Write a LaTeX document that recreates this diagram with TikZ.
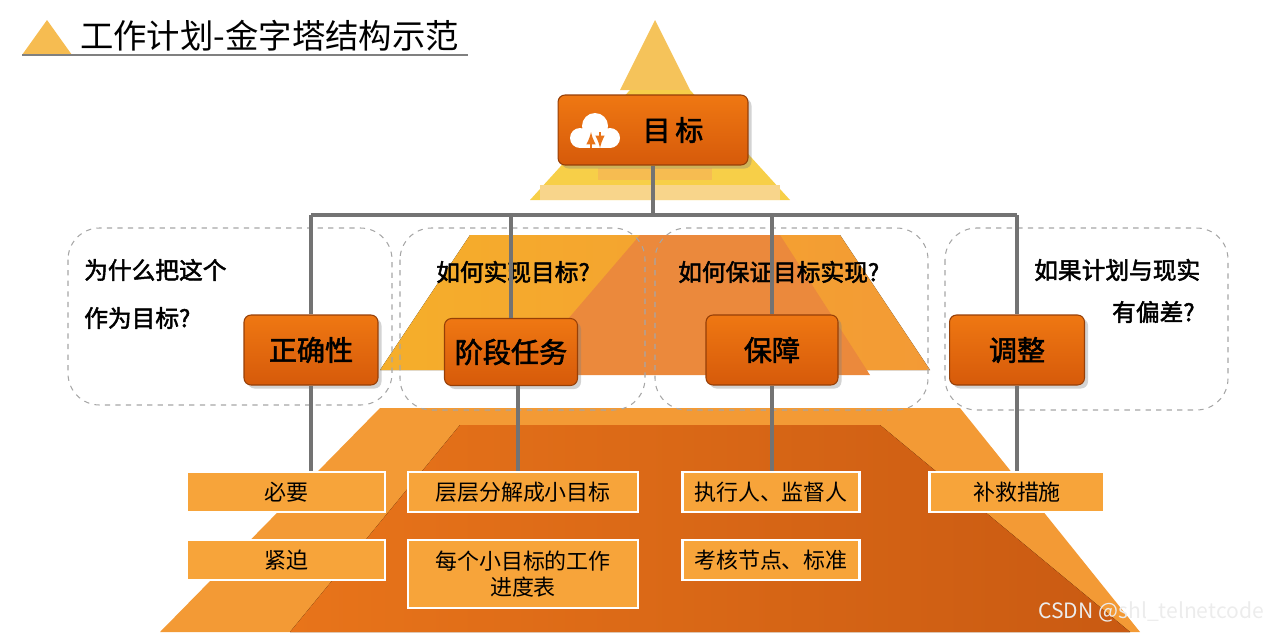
\documentclass[tikz,border=0pt]{standalone}
\usepackage{fontspec}
\setmainfont{Noto Sans CJK SC}
\newfontfamily\cjkb[FakeBold=2]{Noto Sans CJK SC}
\usetikzlibrary{shadows}
\definecolor{og}{HTML}{E8741A}
\definecolor{ogd}{HTML}{D65A0A}
\definecolor{lo}{HTML}{F7A43A}
\definecolor{gold}{HTML}{F5C35A}
\definecolor{tier}{HTML}{F39A35}
\definecolor{dark}{HTML}{C95A12}
\tikzset{
 mainbox/.style={draw=ogd!70!black,line width=0.6pt,rounded corners=4pt,top color=og!70!orange,bottom color=ogd,drop shadow={shadow xshift=2pt,shadow yshift=-2pt,opacity=.35},font=\cjkb\fontsize{16}{18}\selectfont,text=black},
 leaf/.style={draw=white,line width=1.2pt,fill=lo,font=\fontsize{12.5}{15}\selectfont,align=center},
 dashbox/.style={draw=gray!70,dashed,rounded corners=18pt,line width=0.6pt},
 conn/.style={draw=gray!90!black,line width=2pt},
 q/.style={font=\cjkb\fontsize{13.5}{16}\selectfont,anchor=west}
}
\begin{document}
\begin{tikzpicture}[x=0.02cm,y=-0.02cm]
\useasboundingbox (0,0) rectangle (1283,632);
% pyramid
\fill[gold] (620,90) -- (655,20) -- (690,90) -- cycle;
\fill[gold!80!yellow] (630,90) -- (690,90) -- (790,200) -- (530,200) -- cycle;
\fill[gold!70] (540,185) rectangle (780,200);
\fill[gold!90!orange] (598,168) rectangle (712,180);
\fill[left color=tier!80!yellow,right color=tier] (470,235) -- (840,235) -- (930,370) -- (380,370) -- cycle;
\fill[og!85] (640,235) -- (780,235) -- (870,375) -- (520,375) -- cycle;
\fill[tier] (380,408) -- (960,408) -- (1140,632) -- (160,632) -- cycle;
\fill[left color=og,right color=dark] (460,425) -- (880,425) -- (1130,632) -- (290,632) -- cycle;
% title
\fill[gold!90!orange] (22,55) -- (47,20) -- (72,55) -- cycle;
\draw[gray,line width=1pt] (22,55) -- (468,55);
\node[anchor=west,font=\fontsize{19}{22}\selectfont] (title) at (74,36) {工作计划-金字塔结构示范};
% dashed boxes
\draw[dashbox] (68,228) rectangle (392,405);
\draw[dashbox] (400,228) rectangle (645,410);
\draw[dashbox] (655,228) rectangle (928,410);
\draw[dashbox] (945,228) rectangle (1228,410);
\node[q] (q1) at (78,270) {为什么把这个};
\node[q] (q1b) at (78,318) {作为目标?};
\node[q] (q2) at (430,272) {如何实现目标?};
\node[q] (q3) at (672,272) {如何保证目标实现?};
\node[q] (q4) at (1028,270) {如果计划与现实};
\node[q] (q4b) at (1106,312) {有偏差?};
% nodes
\node[mainbox,minimum width=3.8cm,minimum height=1.4cm,inner sep=0pt] (goal) at (653,130) {\hspace{0.8cm}目\,标};
\fill[white] (580,138) circle[radius=0.2cm] (595,126) circle[radius=0.26cm] (610,138) circle[radius=0.2cm];
\fill[white] (580,134) rectangle (610,148);
\draw[og,line width=1.4pt,-latex] (591,148) -- (591,132);
\draw[og,line width=1.4pt,-latex] (600,132) -- (600,148);
\node[mainbox,minimum width=2.68cm,minimum height=1.4cm] (b1) at (311,350) {正确性};
\node[mainbox,minimum width=2.66cm,minimum height=1.34cm] (b2) at (511,352) {阶段任务};
\node[mainbox,minimum width=2.64cm,minimum height=1.4cm] (b3) at (772,350) {保障};
\node[mainbox,minimum width=2.7cm,minimum height=1.4cm] (b4) at (1017,350) {调整};
\node[leaf,minimum width=3.96cm,minimum height=0.8cm] (l1) at (286,492) {必要};
\node[leaf,minimum width=3.96cm,minimum height=0.8cm] (l2) at (286,560) {紧迫};
\node[leaf,minimum width=4.6cm,minimum height=0.8cm] (l3) at (523,492) {层层分解成小目标};
\node[leaf,minimum width=4.6cm,minimum height=1.36cm] (l4) at (523,574) {每个小目标的工作\\进度表};
\node[leaf,minimum width=3.54cm,minimum height=0.8cm] (l5) at (771,492) {执行人、监督人};
\node[leaf,minimum width=3.54cm,minimum height=0.8cm] (l6) at (771,560) {考核节点、标准};
\node[leaf,minimum width=3.5cm,minimum height=0.8cm] (l7) at (1017,492) {补救措施};
% connectors
\coordinate (hub) at (653,215);
\coordinate (hl) at (b1 |- hub);
\coordinate (hr) at (b4 |- hub);
\draw[conn] (goal.south) -- (hub);
\draw[conn] (hl) -- (hr);
\draw[conn] (hl) -- (b1.north);
\draw[conn] (b2 |- hub) -- (b2.north);
\draw[conn] (b3 |- hub) -- (b3.north);
\draw[conn] (hr) -- (b4.north);
\draw[conn] (b1.south) -- (b1.south |- l1.north);
\draw[conn] ([xshift=7*0.02cm]b2.south) -- ([xshift=7*0.02cm]b2.south |- l3.north);
\draw[conn] (b3.south) -- (b3.south |- l5.north);
\draw[conn] (b4.south) -- (b4.south |- l7.north);
\node[anchor=east,text=white!85!gray,font=\fontsize{12}{14}\selectfont] (wm) at (1270,612) {CSDN @shl\_telnetcode};
\end{tikzpicture}
\end{document}
